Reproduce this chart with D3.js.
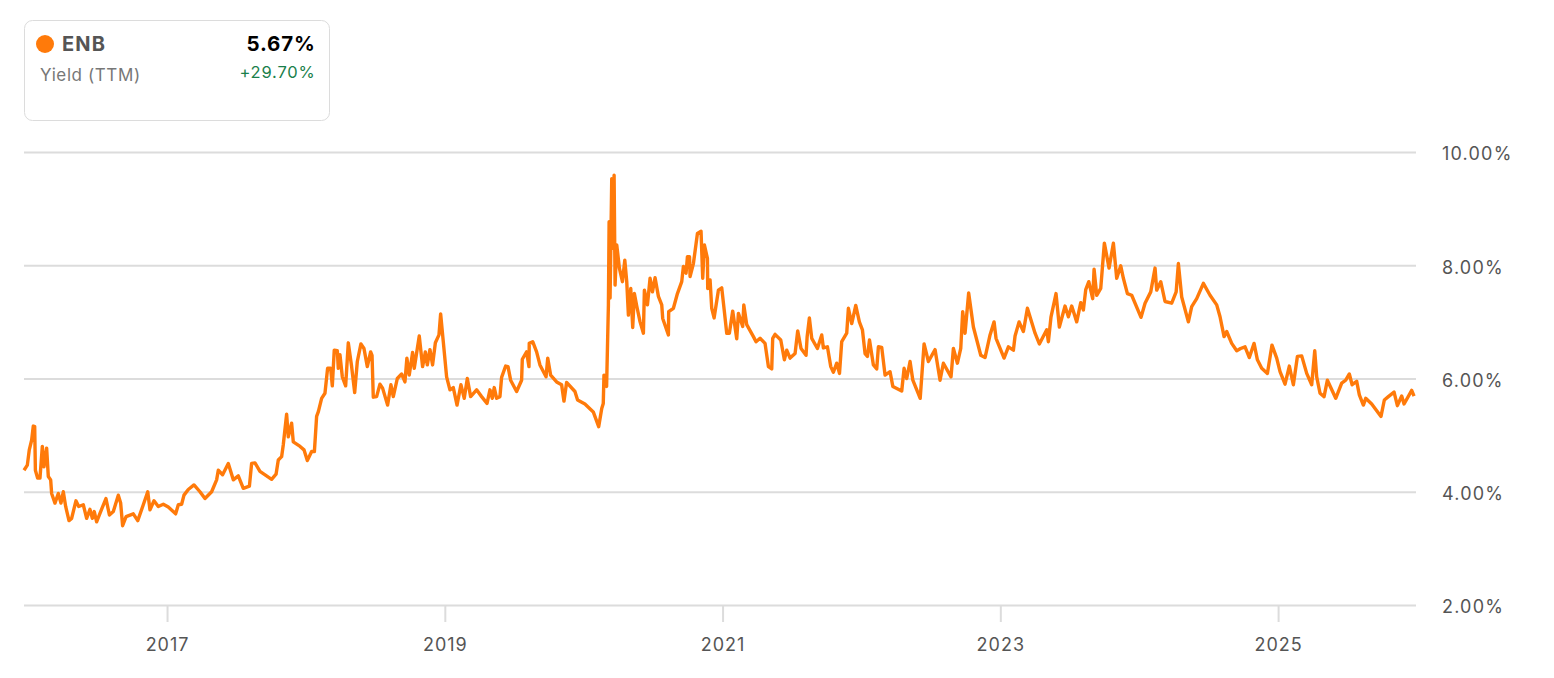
<!DOCTYPE html>
<html>
<head>
<meta charset="utf-8">
<script src="https://cdn.jsdelivr.net/npm/d3@7"></script>
<style>
  html, body { margin: 0; padding: 0; background: #fff; }
  text { font-family: Inter, "Noto Sans", sans-serif; }
  .domain { display: none; }
</style>
</head>
<body>
<div id="chart"></div>
<script>
var years = [
  2015.970,2015.994,2016.008,2016.025,2016.037,2016.047,2016.052,2016.068,2016.085,2016.102,2016.114,2016.133,2016.145,2016.162,2016.169,2016.193,2016.217,2016.236,2016.253,2016.270,
  2016.294,2016.313,2016.344,2016.364,2016.397,2016.421,2016.445,2016.462,2016.476,2016.493,2016.517,2016.560,2016.585,2016.613,2016.649,2016.666,2016.680,2016.705,2016.757,2016.789,
  2016.829,2016.861,2016.877,2016.906,2016.937,2016.973,2017.009,2017.062,2017.081,2017.105,2017.122,2017.153,2017.194,2017.237,2017.273,2017.321,2017.357,2017.369,2017.400,2017.441,
  2017.477,2017.513,2017.549,2017.593,2017.609,2017.633,2017.669,2017.753,2017.785,2017.801,2017.825,2017.837,2017.861,2017.873,2017.897,2017.909,2017.958,2017.986,2018.010,2018.041,
  2018.061,2018.077,2018.090,2018.113,2018.137,2018.156,2018.178,2018.190,2018.204,2018.226,2018.233,2018.245,2018.262,2018.286,2018.305,2018.329,2018.351,2018.370,2018.396,2018.418,
  2018.442,2018.466,2018.476,2018.485,2018.509,2018.533,2018.552,2018.588,2018.612,2018.629,2018.658,2018.689,2018.713,2018.727,2018.744,2018.768,2018.780,2018.816,2018.840,2018.860,
  2018.874,2018.893,2018.912,2018.932,2018.958,2018.970,2018.989,2019.013,2019.037,2019.061,2019.088,2019.116,2019.140,2019.162,2019.186,2019.229,2019.265,2019.304,2019.325,2019.342,
  2019.356,2019.373,2019.397,2019.409,2019.438,2019.455,2019.474,2019.517,2019.553,2019.558,2019.589,2019.606,2019.608,2019.633,2019.661,2019.685,2019.729,2019.741,2019.762,2019.805,
  2019.841,2019.858,2019.877,2019.937,2019.956,2020.009,2020.069,2020.108,2020.130,2020.141,2020.146,2020.165,2020.178,2020.183,2020.190,2020.202,2020.210,2020.219,2020.226,2020.238,
  2020.257,2020.279,2020.296,2020.310,2020.322,2020.339,2020.353,2020.365,2020.382,2020.406,2020.430,2020.437,2020.459,2020.478,2020.495,2020.514,2020.538,2020.562,2020.569,2020.610,
  2020.612,2020.646,2020.675,2020.706,2020.718,2020.737,2020.747,2020.762,2020.766,2020.790,2020.819,2020.845,2020.857,2020.869,2020.891,2020.893,2020.910,2020.922,2020.939,2020.970,
  2020.994,2021.013,2021.030,2021.049,2021.073,2021.102,2021.114,2021.145,2021.153,2021.174,2021.222,2021.241,2021.270,2021.306,2021.330,2021.354,2021.361,2021.378,2021.419,2021.445,
  2021.462,2021.486,2021.522,2021.541,2021.565,2021.601,2021.609,2021.625,2021.642,2021.683,2021.714,2021.726,2021.755,2021.779,2021.798,2021.822,2021.842,2021.858,2021.894,2021.906,
  2021.930,2021.959,2021.985,2022.007,2022.026,2022.043,2022.058,2022.086,2022.110,2022.122,2022.146,2022.170,2022.206,2022.226,2022.290,2022.307,2022.326,2022.350,2022.370,2022.423,
  2022.451,2022.482,2022.530,2022.566,2022.590,2022.645,2022.662,2022.691,2022.715,2022.729,2022.746,2022.772,2022.806,2022.859,2022.890,2022.926,2022.955,2022.969,2023.027,2023.058,
  2023.094,2023.106,2023.135,2023.166,2023.195,2023.250,2023.281,2023.334,2023.346,2023.365,2023.401,2023.425,2023.466,2023.490,2023.514,2023.550,2023.579,2023.598,2023.615,2023.637,
  2023.665,2023.675,2023.694,2023.723,2023.749,2023.783,2023.814,2023.838,2023.867,2023.886,2023.915,2023.946,2024.013,2024.042,2024.083,2024.114,2024.126,2024.155,2024.186,2024.234,
  2024.266,2024.282,2024.306,2024.354,2024.378,2024.414,2024.462,2024.510,2024.558,2024.582,2024.611,2024.630,2024.666,2024.702,2024.730,2024.762,2024.793,2024.827,2024.851,2024.882,
  2024.923,2024.956,2024.990,2025.014,2025.050,2025.081,2025.110,2025.139,2025.170,2025.206,2025.242,2025.264,2025.278,2025.302,2025.331,2025.355,2025.415,2025.458,2025.487,2025.513,
  2025.533,2025.566,2025.585,2025.614,2025.631,2025.674,2025.741,2025.765,2025.794,2025.835,2025.859,2025.890,2025.907,2025.962,2025.979
];

var yields = [
  4.38,4.47,4.74,4.91,5.16,5.15,4.38,4.24,4.24,4.80,4.44,4.77,4.27,4.21,3.97,3.80,3.97,3.80,4.00,3.74,
  3.49,3.53,3.84,3.74,3.77,3.53,3.69,3.53,3.65,3.47,3.62,3.88,3.59,3.65,3.94,3.80,3.40,3.56,3.61,3.49,
  3.77,4.00,3.68,3.84,3.74,3.78,3.73,3.61,3.77,3.78,3.94,4.04,4.12,4.00,3.88,4.00,4.21,4.38,4.30,4.50,
  4.21,4.28,4.06,4.10,4.50,4.51,4.36,4.22,4.31,4.56,4.62,4.83,5.37,4.97,5.21,4.88,4.80,4.74,4.55,4.71,
  4.71,5.33,5.42,5.65,5.74,6.18,6.18,5.87,6.50,6.49,6.18,6.42,6.03,5.87,6.63,6.21,5.75,6.30,6.61,6.53,
  6.21,6.47,6.41,5.67,5.68,5.90,5.83,5.53,5.89,5.68,6.00,6.08,5.94,6.36,6.06,6.46,6.18,6.75,6.21,6.47,
  6.24,6.51,6.24,6.63,6.77,7.14,6.65,6.03,5.80,5.84,5.53,5.89,5.65,6.00,5.68,5.80,5.68,5.56,5.80,5.65,
  5.84,5.65,5.68,6.02,6.22,6.21,5.97,5.77,5.97,6.34,6.47,6.21,6.62,6.65,6.47,6.24,6.03,6.36,6.06,5.94,
  5.89,5.60,5.93,5.77,5.62,5.55,5.41,5.15,5.47,5.56,6.06,5.86,7.30,8.77,7.42,9.53,8.30,9.59,7.65,8.36,
  7.95,7.71,8.09,7.71,7.12,7.59,6.90,7.50,7.28,7.00,6.80,7.56,7.30,7.77,7.53,7.78,7.45,7.30,7.06,6.77,
  7.18,7.24,7.50,7.71,7.98,7.86,8.15,8.15,7.80,8.03,8.56,8.60,7.77,8.36,8.12,7.59,7.74,7.24,7.07,7.56,
  7.60,7.18,6.80,6.80,7.19,6.70,7.15,6.92,7.30,6.95,6.74,6.65,6.71,6.62,6.21,6.17,6.71,6.78,6.68,6.33,
  6.50,6.36,6.44,6.84,6.53,6.41,6.74,7.07,6.71,6.53,6.77,6.54,6.56,6.21,6.11,6.27,6.09,6.65,6.80,7.24,
  6.97,7.29,7.00,6.86,6.44,6.39,6.68,6.24,6.17,6.56,6.55,6.06,6.12,5.86,5.78,6.18,6.00,6.30,5.97,5.65,
  6.61,6.30,6.51,5.97,6.27,6.03,6.53,6.27,6.53,7.18,6.80,7.51,6.91,6.41,6.37,6.77,7.00,6.71,6.36,6.56,
  6.50,6.75,7.00,6.83,7.24,6.80,6.61,6.86,6.65,7.09,7.50,6.91,7.28,7.09,7.28,7.00,7.34,7.21,7.57,7.71,
  7.41,7.93,7.47,7.59,8.39,7.95,8.39,7.77,7.99,7.77,7.50,7.47,7.08,7.33,7.53,7.95,7.56,7.71,7.36,7.33,
  7.53,8.03,7.44,7.00,7.27,7.41,7.68,7.47,7.30,7.09,6.74,6.83,6.62,6.49,6.53,6.56,6.37,6.62,6.33,6.18,
  6.09,6.59,6.36,6.12,5.90,6.22,5.89,6.39,6.40,6.09,5.89,6.49,6.03,5.74,5.68,5.97,5.65,5.92,5.97,6.08,
  5.89,5.95,5.71,5.53,5.65,5.55,5.33,5.62,5.68,5.76,5.52,5.69,5.55,5.79,5.69
];

var yTicks = [2, 4, 6, 8, 10];
var xTicks = [2017, 2019, 2021, 2023, 2025];

var ticker = "ENB";
var metric = "Yield (TTM)";
var latest = "5.67%";
var change = "+29.70%";

var width = 1554,
    height = 678,
    plotLeft = 24,
    plotRight = 1416,
    plotTop = 152,
    plotBottom = 605;

var orange = "#ff7a0a";

var svg = d3.select("#chart").append("svg")
    .attr("width", width)
    .attr("height", height)
    .style("display", "block");

var x = d3.scaleLinear().domain([2015.97, 2025.993]).range([plotLeft, plotRight]);
var y = d3.scaleLinear().domain([2, 10]).range([plotBottom, plotTop]);

// grid lines come from the y axis ticks
var yAxis = d3.axisRight(y)
    .tickValues(yTicks)
    .tickSize(plotRight - plotLeft)
    .tickFormat(function (d) { return d.toFixed(2) + "%"; });

var yg = svg.append("g")
    .attr("transform", "translate(" + plotLeft + ",0)")
    .call(yAxis);

yg.selectAll(".tick line")
    .attr("stroke", "#dcdcdc")
    .attr("stroke-width", 2);

yg.selectAll(".tick text")
    .attr("x", 1442 - plotLeft)
    .attr("dy", "0.43em")
    .attr("fill", "#555")
    .style("font-size", "18px")
    .style("letter-spacing", "1.2px");

var xAxis = d3.axisBottom(x)
    .tickValues(xTicks)
    .tickSize(17)
    .tickPadding(16)
    .tickFormat(d3.format("d"));

var xg = svg.append("g")
    .attr("transform", "translate(0," + plotBottom + ")")
    .call(xAxis);

xg.selectAll(".tick line")
    .attr("stroke", "#dcdcdc")
    .attr("stroke-width", 2);

xg.selectAll(".tick text")
    .attr("fill", "#555")
    .style("font-size", "18px")
    .style("letter-spacing", "1px");

var line = d3.line()
    .x(function (d) { return x(d[0]); })
    .y(function (d) { return y(d[1]); });

svg.append("path")
    .datum(d3.zip(years, yields))
    .attr("fill", "none")
    .attr("stroke", orange)
    .attr("stroke-width", 3.4)
    .attr("stroke-linejoin", "round")
    .attr("d", line);

// legend card
var card = svg.append("g");

card.append("rect")
    .attr("x", 24.5)
    .attr("y", 20.5)
    .attr("width", 305)
    .attr("height", 100)
    .attr("rx", 8)
    .attr("fill", "#fff")
    .attr("stroke", "#dcdcdc");

card.append("circle")
    .attr("cx", 45)
    .attr("cy", 44)
    .attr("r", 9)
    .attr("fill", orange);

card.append("text")
    .attr("x", 62)
    .attr("y", 51)
    .attr("fill", "#555")
    .style("font-size", "20px")
    .style("font-weight", 700)
    .style("letter-spacing", "1.2px")
    .text(ticker);

card.append("text")
    .attr("x", 40)
    .attr("y", 81)
    .attr("fill", "#777")
    .style("font-size", "17px")
    .style("letter-spacing", "0.6px")
    .text(metric);

card.append("text")
    .attr("x", 315.5)
    .attr("y", 51)
    .attr("text-anchor", "end")
    .attr("fill", "#000")
    .style("font-size", "20.5px")
    .style("font-weight", 700)
    .style("letter-spacing", "0.8px")
    .text(latest);

card.append("text")
    .attr("x", 315.5)
    .attr("y", 78)
    .attr("text-anchor", "end")
    .attr("fill", "#1a7f4b")
    .style("font-size", "16.5px")
    .style("letter-spacing", "0.8px")
    .text(change);
</script>
</body>
</html>
